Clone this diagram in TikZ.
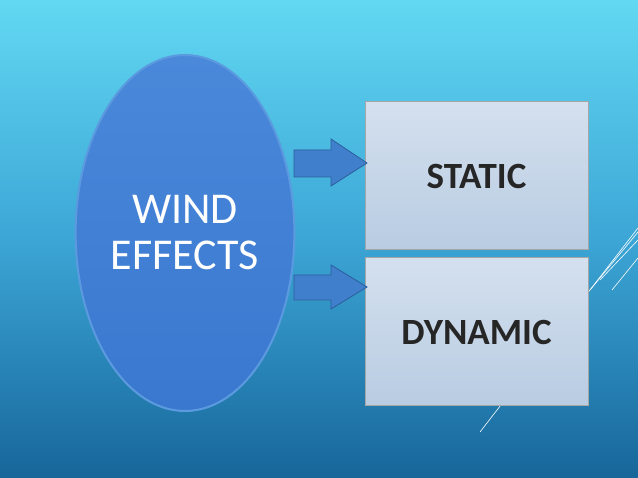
\documentclass[tikz,border=0pt]{standalone}
\usepackage{fontspec}
\setmainfont{Carlito}
\usetikzlibrary{shapes.geometric}
\definecolor{bgA}{HTML}{62D8F2}
\definecolor{bgM}{HTML}{3CA6D6}
\definecolor{bgB}{HTML}{17669A}
\definecolor{ellfill}{HTML}{3A78D0}
\definecolor{elltop}{HTML}{4A88DA}
\definecolor{ellline}{HTML}{5C9AE0}
\definecolor{boxtop}{HTML}{D4E0EE}
\definecolor{boxbot}{HTML}{B8CCE2}
\definecolor{arrfill}{HTML}{3F7FCC}
\definecolor{arrline}{HTML}{2C5E9C}
\tikzset{
  resultbox/.style={draw=gray!70, line width=1pt, top color=boxtop, bottom color=boxbot,
    minimum width=223pt, minimum height=148pt, inner sep=0pt,
    font=\bfseries\fontsize{37}{40}\selectfont, text=black!85},
  blockarrow/.style={fill=arrfill, draw=arrline, line width=0.8pt},
  deco/.style={draw=white, line width=0.6pt}
}
\begin{document}
\begin{tikzpicture}[x=1pt,y=-1pt]
\useasboundingbox (0,0) rectangle (638,478);
\shade[shading angle=225, top color=bgA, bottom color=bgB, middle color=bgM] (0,0) rectangle (638,478);
% decorative lines
\draw[deco] (480,432) -- (638,228);
\draw[deco] (590,290) -- (638,232);
\draw[deco] (600,280) -- (638,240);
\draw[deco] (612,290) -- (638,258);
% ellipse
\node[ellipse, draw=ellline, line width=2pt, top color=elltop, bottom color=ellfill, minimum width=210pt, minimum height=356pt,
  text=white, align=center, font=\fontsize{44}{46}\selectfont] (wind) at (185,233) {WIND\\EFFECTS};
% boxes
\node[resultbox] (static) at (476.5,176) {STATIC};
\node[resultbox] (dynamic) at (476.5,332) {DYNAMIC};
% arrows
\draw[blockarrow] (294,150) -- (331,150) -- (331,139) -- (367,163) -- (331,186) -- (331,177) -- (294,177) -- cycle;
\draw[blockarrow] (294,275) -- (331,275) -- (331,265) -- (367,287) -- (331,309) -- (331,300) -- (294,300) -- cycle;
\end{tikzpicture}
\end{document}
